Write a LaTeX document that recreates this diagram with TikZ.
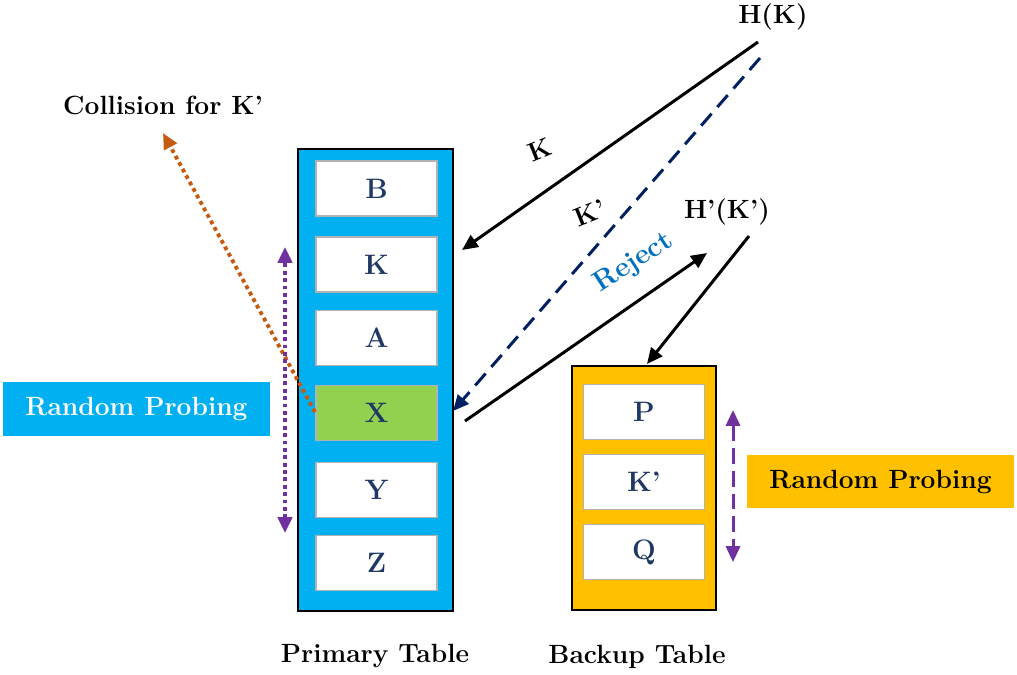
\documentclass[tikz,border=0pt]{standalone}
\usepackage{amsmath}
\usepackage{color}
\usetikzlibrary{arrows.meta}
\definecolor{tblcyan}{RGB}{0,176,240}
\definecolor{tblorange}{RGB}{255,192,0}
\definecolor{cellgreen}{RGB}{146,208,80}
\definecolor{cellnavy}{RGB}{31,56,100}
\definecolor{rejnavy}{RGB}{0,32,96}
\definecolor{rejblue}{RGB}{0,112,192}
\definecolor{collorange}{RGB}{197,90,17}
\definecolor{probpurple}{RGB}{112,48,160}
\begin{document}
\begin{tikzpicture}[x=0.02cm,y=-0.02cm,
  every node/.style={font=\fontsize{15}{18}\selectfont\bfseries},
  tbl/.style={draw=black,line width=1pt,minimum width=#1},
  cell/.style={draw=gray!60,line width=0.8pt,fill=white,minimum width=2.42cm,minimum height=1.1cm,
    text=cellnavy,font=\fontsize{16}{18}\selectfont\bfseries},
  probe/.style={minimum width=5.34cm,minimum height=1.07cm},
  tip/.style={-{Triangle[length=9pt,width=8pt]}},
  twotip/.style={{Triangle[length=9pt,width=8pt]}-{Triangle[length=9pt,width=8pt]}},
  line width=1.7pt]
\useasboundingbox (0,0) rectangle (1017,674);
% tables
\node[tbl=3.1cm,fill=tblcyan,minimum height=9.24cm] (pt) at (375.5,380) {};
\node[tbl=2.88cm,fill=tblorange,minimum height=4.88cm] (bt) at (644,488) {};
\foreach \n/\y in {B/188.5,K/264.5,A/338,Y/490,Z/563}
  \node[cell] (c\n) at (376.5,\y) {\n};
\node[cell,fill=cellgreen] (cX) at (376.5,413) {X};
\node[cell] (cP) at (644,412) {P};
\node[cell] (cKp) at (644,482) {K’};
\node[cell] (cQ) at (644,552) {Q};
\node (ptlab) at (375,656) {Primary Table};
\node (btlab) at (637,657) {Backup Table};
% probing labels
\node[probe,fill=tblcyan,text=white] (rpl) at (136.5,409) {Random Probing};
\node[probe,fill=tblorange] (rpr) at (880.5,481.5) {Random Probing};
\node (coll) at (163,105) {Collision for K’};
\node (hk) at (773,17) {H(K)};
\node (hpk) at (727,212) {H’(K’)};
\node[rotate=22,inner sep=0pt] (lk) at (540,150) {K};
\node[rotate=22,inner sep=0pt] (lkp) at (590,213) {K’};
\node[text=rejblue,rotate=33,inner sep=0pt,font=\fontsize{16}{18}\selectfont\bfseries] (rej) at (634,263) {Reject};
% end points
\coordinate (hkA) at (758,42);
\coordinate (hkB) at (760,58);
\coordinate (kin) at (462,250);
\coordinate (kpin) at (453,411);
\coordinate (xout) at (465,421);
\coordinate (hpkin) at (707,253);
\coordinate (hpkA) at (749,236);
\coordinate (btin) at (647,364);
\coordinate (collA) at (315,412);
\coordinate (collB) at (163,133);
\coordinate (plA) at (285,533);
\coordinate (plB) at (285,247);
\coordinate (prA) at (733,410);
\coordinate (prB) at (733,562);
\draw[tip] (hkA) -- (kin);
\draw[tip,rejnavy,dash pattern=on 9pt off 5pt] (hkB) -- (kpin);
\draw[tip] (xout) -- (hpkin);
\draw[tip] (hpkA) -- (btin);
\draw[tip,collorange,dotted,line width=2.2pt] (collA) -- (collB);
\draw[twotip,probpurple,dotted,line width=2.2pt] (plA) -- (plB);
\draw[twotip,probpurple,dash pattern=on 9pt off 4pt] (prA) -- (prB);
\end{tikzpicture}
\end{document}
